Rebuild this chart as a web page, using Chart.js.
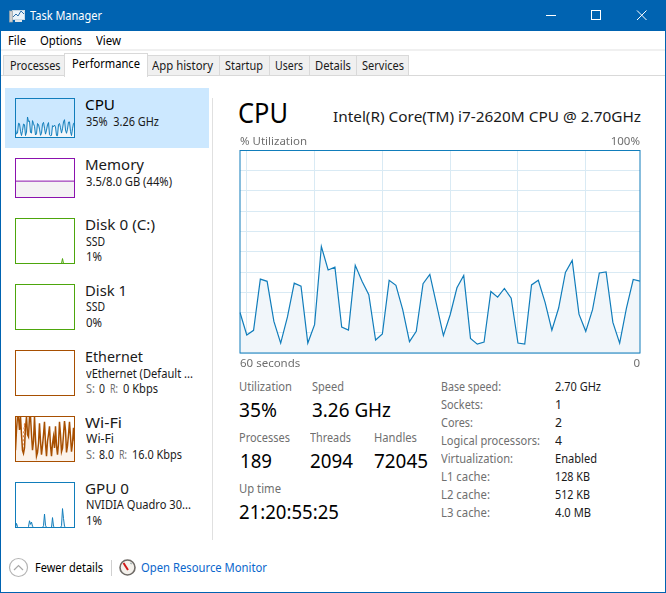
<!DOCTYPE html>
<html><head><meta charset="utf-8">
<style>
html,body{margin:0;padding:0;background:#fff;overflow:hidden}
#win{position:relative;width:666px;height:593px;background:#fff;overflow:hidden;font-family:"Noto Sans","Open Sans",sans-serif}
.b{position:absolute;box-sizing:border-box}
.t{position:absolute;white-space:pre;transform-origin:0 50%;line-height:1}
canvas{position:absolute;display:block}
svg{position:absolute}
</style>
<script src="https://cdn.jsdelivr.net/npm/chart.js@4/dist/chart.umd.min.js"></script>
</head><body><div id="win"></div>
<script>
// ---- chart data ----
const cpuValues=[20,8.9,11.2,36.5,35.4,15.6,4.9,17.8,34.5,33,4.9,14,52.6,41,42.4,12.8,11.3,43.3,35.4,28.8,6.4,9.4,35.9,33.4,21.4,5.6,10.7,34.2,38.8,23.8,8.6,18.9,32.2,38.3,7.2,4.4,5.4,30.4,27.6,31.9,27.1,4.9,4.4,33.6,35.9,25,11.3,22.2,39.8,45.7,19.2,10.7,21.4,39.5,40,15.1,4.9,22.2,36.3,35.5];
const timeLabels=["60 seconds","","","","","","","","","","","","","","","","","","","","","","","","","","","","","","","","","","","","","","","","","","","","","","","","","","","","","","","","","","","0"];
const topLabels=["% Utilization","100%"];
const memoryValues=[42,42];
const disk0Values=[0,0,0,0,0,0,0,0,0,0,0,0,0,0,0,0,0,0,0,0,0,0,0,0,0,0,0,0,0,0,0,0,0,0,0,0,0,0,0,0,0,0,0,0,0,0,0,11,0,0,0,0,0,0,0,0,0,0,0,0];
const disk1Values=[0,0];
const ethernetValues=[0,0];
const wifiReceive=[25,70,100,100,70,100,60,25,18,30,75,100,60,55,100,100,60,25,45,100,50,12,20,40,85,45,15,35,60,88,40,12,45,60,78,35,12,40,55,30,78,35,15,40,88,60,22,30,60,90,70,20,35,60,88,55,22,40,75,45];
const wifiSend=[5,22,8,25,6,18,30,8,60,85,20,70,10,25,6,24,8,26,6,22,10,25,8,20,6,26,8,18,24,6,22,10,24,8,20,6,24,8,18,26,6,22,10,24,8,22,6,26,10,18,6,24,8,22,10,26,6,20,8,4];
const gpuValues=[0,9,2,0,0,0,0,0,0,0,0,0,0,2,15,7,12,3,0,0,0,0,0,0,0,0,0,0,4,30,5,0,0,0,0,0,0,22,3,0,0,0,0,0,0,0,4,42,20,3,0,0,0,0,0,0,0,0,0,0];
// ------------------------------------------
const BLUE='#117dbb', CPU_FILL='#f1f6fa', GRID='#d9eaf4';
const win=document.getElementById('win');
const box=(x,y,w,h,css)=>{const d=document.createElement('div');d.className='b';d.style.cssText=`left:${x}px;top:${y}px;width:${w}px;height:${h}px;${css}`;win.appendChild(d);return d;};
// window chrome
box(0,0,666,31,'background:#0063b1');
box(0,49,666,2,'background:#f0f0f0');
box(0,75,666,1,'background:#d9d9d9');
box(0,0,1,593,'background:#0063b1');box(665,0,1,593,'background:#0063b1');box(0,592,666,1,'background:#0063b1');
const tabEdges=[[3,64],[147,218.5],[218.5,268.5],[268.5,309],[309,355.5],[355.5,408]];
tabEdges.forEach(e=>box(e[0],55,e[1]-e[0]+1,21,'background:#f0f0f0;border:1px solid #d9d9d9'));
box(64,53,84,24,'background:#fff;border:1px solid #d9d9d9;border-bottom:none');
box(5,88,204,60,'background:#cce8ff');
box(212,98,1,442,'background:#e0e0e0');
box(111,560,1,16,'background:#d0d0d0');
// svg icons
win.insertAdjacentHTML('beforeend',`
<svg style="left:0;top:0" width="666" height="593" viewBox="0 0 666 593" fill="none">
 <rect x="12.5" y="10.5" width="12" height="9" fill="#eaf3fa" stroke="#c8d8e4"/>
 <path d="M13 17l3-3 2 2 3-5 3 3" stroke="#2a6da8"/>
 <rect x="9.5" y="11" width="3" height="11" fill="#d0d0d0" stroke="#9aa5ad" stroke-width=".7"/>
 <path d="M15 21h7" stroke="#dfe6ea" stroke-width="2"/>
 <path d="M546 15.5h10" stroke="#fff"/>
 <rect x="591.5" y="10.5" width="9" height="9" stroke="#fff"/>
 <path d="M637 10.5l9.5 9.5M646.5 10.5l-9.5 9.5" stroke="#fff"/>
 <circle cx="18.500" cy="567.500" r="9" stroke="#b4b4b4" stroke-width="1.2"/>
 <path d="M14 570l4.500-4.500 4.500 4.500" stroke="#a8a8a8" stroke-width="1.2"/>
 <circle cx="127.500" cy="567.500" r="7.500" fill="#f4f1ec" stroke="#6e6a66" stroke-width="1.600"/>
 <path d="M123.500 563l4.500 7" stroke="#d01818" stroke-width="2"/>
 <path d="M130 563l2 1" stroke="#9aa" stroke-width="1"/>
</svg>`);
// text: [string, left, right, centerY, fontSize, color]
const INK='#1a1a1a',GREY='#6f6f6f',WHITE='#ffffff',LINK='#0a66cc',DARK='#000000';
const texts=[
["Task Manager",30,102,16,12,WHITE],
["File",8,26,41,12,DARK],["Options",40,82,41,12,DARK],["View",96,121,41,12,DARK],
["Processes",9.5,60,66,12,INK],["Performance",72,140,64,12,DARK],["App history",152,213,66,12,INK],["Startup",225,263,66,12,INK],["Users",275,303,66,12,INK],["Details",315,351,66,12,INK],["Services",362,404,66,12,INK],
["CPU",85,115,104,15,DARK],["35%  3.26 GHz",86,159,121.500,12,INK],
["Memory",85,144,164,15,INK],["3.5/8.0 GB (44%)",86,172,182,12,INK],
["Disk 0 (C:)",85,155,224,15,INK],["SSD",86,105,242,12,INK],["1%",86,102,257,12,INK],
["Disk 1",85,127,290,15,INK],["SSD",86,105,307,12,INK],["0%",86,102,323,12,INK],
["Ethernet",85,143,356,15,INK],["vEthernet (Default ...",86,193,374,12,INK],
["S:",86,95,389,12,GREY],["0",99,105,389,12,INK],["R:",110,118,389,12,GREY],["0 Kbps",123,158,389,12,INK],
["Wi-Fi",85,122,422,15,INK],["Wi-Fi",86,114,439,12,INK],
["S:",86,95,455,12,GREY],["8.0",99,114,455,12,INK],["R:",119,127,455,12,GREY],["16.0 Kbps",132,182,455,12,INK],
["GPU 0",85,129,488,15,INK],["NVIDIA Quadro 30...",86,191,505,12,INK],["1%",86,102,521,12,INK],
["CPU",238,288,112,27,DARK],["Intel(R) Core(TM) i7-2620M CPU @ 2.70GHz",333,641,116,15,INK],
["Utilization",239,292,387,12,GREY],["Speed",312,344,387,12,GREY],
["35%",239,277,410,19,DARK],["3.26 GHz",312,391,410,19,DARK],
["Processes",239,290,438,12,GREY],["Threads",310,351,438,12,GREY],["Handles",374,417,438,12,GREY],
["189",240,272,461,19,DARK],["2094",310,353,461,19,DARK],["72045",374,428,461,19,DARK],
["Up time",239,281,489,12,GREY],["21:20:55:25",239,339,512,19,DARK],
["Base speed:",441,501,387,12,GREY],["Sockets:",441,483,405,12,GREY],["Cores:",441,473,423,12,GREY],["Logical processors:",441,540,441,12,GREY],["Virtualization:",441,513,459,12,GREY],["L1 cache:",441,490,477,12,GREY],["L2 cache:",441,490,495,12,GREY],["L3 cache:",441,490,513,12,GREY],
["2.70 GHz",555,601,387,12,INK],["1",555,562,405,12,INK],["2",555,562,423,12,INK],["4",555,562,441,12,INK],["Enabled",555,597,459,12,INK],["128 KB",555,590,477,12,INK],["512 KB",555,590,495,12,INK],["4.0 MB",555,591,513,12,INK],
["Fewer details",35,103,568,12,DARK],["Open Resource Monitor",141,267,568,12.500,LINK]
];
texts.forEach(a=>{const s=document.createElement('span');s.className='t';s.textContent=a[0];
 s.style.cssText=`left:${a[1]}px;top:${a[3]-a[4]/2}px;font-size:${a[4]}px;color:${a[5]}`;win.appendChild(s);
 s.style.transform=`scaleX(${(a[2]-a[1])/s.getBoundingClientRect().width})`;});
// charts
const frame={id:'frame',afterDraw(c){const g=c.ctx,a=c.chartArea;g.save();g.strokeStyle=c.options.plugins.frame.color;g.lineWidth=1;g.strokeRect(a.left,a.top,a.right-a.left,a.bottom-a.top);g.restore();}};
const addCanvas=(x,y,w,h)=>{const c=document.createElement('canvas');c.width=w;c.height=h;c.style.cssText=`left:${x}px;top:${y}px;width:${w}px;height:${h}px`;win.appendChild(c);return c;};
// main CPU graph
new Chart(addCanvas(236,132,408,240),{type:'line',plugins:[frame],
 data:{labels:timeLabels,datasets:[{data:cpuValues,borderColor:BLUE,borderWidth:1.2,backgroundColor:CPU_FILL,fill:'origin',pointRadius:0,tension:0}]},
 options:{responsive:false,animation:false,devicePixelRatio:1,layout:{padding:{left:3.5,right:3.5}},
  plugins:{legend:{display:false},tooltip:{enabled:false},frame:{color:BLUE}},
  scales:{
   x:{position:'bottom',grid:{drawTicks:false,color:c=>c.index%10===1?GRID:'transparent'},border:{display:false},
      afterFit(s){s.height=19;},
      ticks:{autoSkip:false,maxRotation:0,align:'inner',padding:4,color:GREY,font:{family:'"Noto Sans"',size:11.5},callback(v){return this.getLabelForValue(v);}}},
   xTop:{axis:'x',type:'category',position:'top',labels:topLabels,grid:{display:false,drawTicks:false},border:{display:false},
      afterFit(s){s.height=18.5;},
      ticks:{autoSkip:false,maxRotation:0,align:'inner',padding:2,color:GREY,font:{family:'"Noto Sans"',size:11.5}}},
   y:{min:0,max:100,grid:{drawTicks:false,color:GRID},border:{display:false},ticks:{display:false,stepSize:10}}
  }}});
// sidebar thumbnails
function thumb(x,y,h,color,fillColor,series,second,lineWidth=1){
 const n=series.length;
 const ds=[{data:series,borderColor:color,borderWidth:lineWidth,backgroundColor:fillColor,fill:'origin',pointRadius:0,tension:0}];
 if(second)ds.push({data:second,borderColor:'#e0722a',borderWidth:1,borderDash:[2,2],fill:false,pointRadius:0,tension:0});
 new Chart(addCanvas(x,y,60,h),{type:'line',plugins:[frame],
  data:{labels:series.map((_,i)=>String(n-i)),datasets:ds},
  options:{responsive:false,animation:false,devicePixelRatio:1,layout:{padding:.5},
   plugins:{legend:{display:false},tooltip:{enabled:false},frame:{color}},
   scales:{x:{display:false},y:{display:false,min:0,max:100}}}});
}
thumb(15,98,40,BLUE,CPU_FILL,cpuValues);
thumb(15,158,40,'#8b12ae','#f4f2f4',memoryValues);
thumb(15,218,46,'#4da60c','#eff7e6',disk0Values);
thumb(15,284,46,'#4da60c','#eff7e6',disk1Values);
thumb(15,350,46,'#a74f01','#fcf3eb',ethernetValues);
thumb(15,416,46,'#a74f01','#fcf3eb',wifiReceive,wifiSend,1.5);
thumb(15,482,46,BLUE,CPU_FILL,gpuValues);
</script></body></html>
